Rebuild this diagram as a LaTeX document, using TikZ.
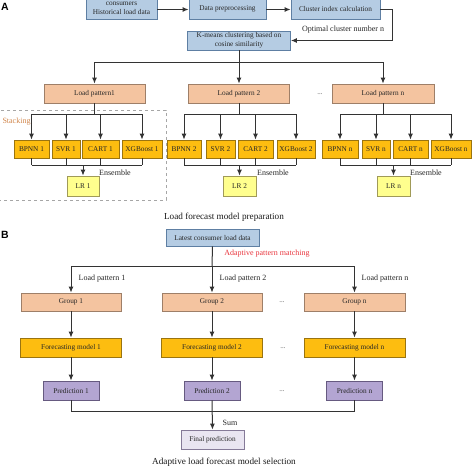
\documentclass[tikz,border=0pt]{standalone}
\usepackage{fontspec}
\setmainfont{Liberation Serif}
\newfontfamily\labfont{Liberation Sans}
\usetikzlibrary{arrows.meta}
\definecolor{bluef}{HTML}{B5CCE3}
\definecolor{blued}{HTML}{5E7FA3}
\definecolor{salf}{HTML}{F4C4A0}
\definecolor{sald}{HTML}{9E7F68}
\definecolor{ambf}{HTML}{FDBD10}
\definecolor{ambd}{HTML}{9A7410}
\definecolor{lyf}{HTML}{FFFF8E}
\definecolor{lyd}{HTML}{A09A58}
\definecolor{purf}{HTML}{B3A5D2}
\definecolor{purd}{HTML}{665A80}
\definecolor{finf}{HTML}{E9E5F1}
\definecolor{find}{HTML}{857A98}
\definecolor{linec}{HTML}{333333}
\definecolor{stackc}{HTML}{D0854A}
\definecolor{redc}{HTML}{E8343C}
\tikzset{
  bx/.style={draw, line width=0.8pt, inner sep=0pt, align=center, text=black!85,
    font=\fontsize{7.3}{8.6}\selectfont},
  bluebox/.style={bx, fill=bluef, draw=blued},
  salbox/.style={bx, fill=salf, draw=sald, minimum height=19pt},
  ambbox/.style={bx, fill=ambf, draw=ambd},
  lybox/.style={bx, fill=lyf, draw=lyd, minimum height=20pt},
  purbox/.style={bx, fill=purf, draw=purd, minimum height=19pt, minimum width=56pt},
  finbox/.style={bx, fill=finf, draw=find},
  conn/.style={draw=linec, line width=1pt},
  arr/.style={conn, -{Latex[length=6pt,width=5pt]}},
  lbl/.style={inner sep=0pt, text=black!85, font=\fontsize{8}{9}\selectfont},
  captext/.style={inner sep=0pt, text=black!90, font=\fontsize{9.2}{11}\selectfont},
  dots/.style={inner sep=0pt, text=black!70, font=\fontsize{7}{8}\selectfont},
}
\begin{document}
\begin{tikzpicture}[x=1pt,y=-1pt]
\useasboundingbox (0,0) rectangle (474,467);
\begin{scope}
\clip (0,0) rectangle (474,467);
% panel labels
\node[inner sep=0pt, font=\labfont\bfseries\fontsize{10.5}{12}\selectfont] (labA) at (5,7) {A};
\node[inner sep=0pt, font=\labfont\bfseries\fontsize{10.5}{12}\selectfont] (labB) at (5,235) {B};
% top row
\node[bluebox, minimum width=71pt, minimum height=22pt] (cons) at (121.5,8.5) {consumers\\Historical load data};
\node[bluebox, minimum width=77pt, minimum height=22pt] (prep) at (227.5,8.5) {Data preprocessing};
\node[bluebox, minimum width=89pt, minimum height=22pt] (clus) at (335.5,8.5) {Cluster index calculation};
\node[bluebox, minimum width=103pt, minimum height=19pt] (kmeans) at (239,40.5) {K-means clustering based on\\cosine similarity};
\draw[arr] (cons.east |- 0,9.5) -- (prep.west |- 0,9.5);
\draw[arr] (prep.east |- 0,9.5) -- (clus.west |- 0,9.5);
\coordinate (cr) at (392,9.5);
\draw[arr] (clus.east |- cr) -- (cr) |- (kmeans.east);
\node[lbl] (opt) at (343,30) {Optimal cluster number n};
% load patterns
\node[salbox, minimum width=101pt] (lp1) at (94.5,93.5) {Load pattern1};
\node[salbox, minimum width=101pt] (lp2) at (239,93.5) {Load pattern 2};
\node[salbox, minimum width=102pt] (lpn) at (383,93.5) {Load pattern n};
\node[dots] (d1) at (320,94) {...};
\coordinate (ks) at (239,62);
\draw[conn] (kmeans.south) -- (ks);
\draw[arr] (ks) -| (lp1.north);
\draw[arr] (ks) -- (lp2.north);
\draw[arr] (ks) -| (lpn.north);
% stacking box
\draw[dashed, draw=black!35, line width=0.7pt] (-2,110) rectangle (166,200);
\node[inner sep=0pt, text=stackc, font=\fontsize{8}{9}\selectfont] (stk) at (16.5,122) {Stacking};
% models group 1
\node[ambbox, minimum width=35pt, minimum height=18pt] (b1) at (31.5,149) {BPNN 1};
\node[ambbox, minimum width=28pt, minimum height=18pt] (s1) at (66,149) {SVR 1};
\node[ambbox, minimum width=37pt, minimum height=18pt] (c1) at (100.5,149) {CART 1};
\node[ambbox, minimum width=40pt, minimum height=18pt] (x1) at (142,149) {XGBoost 1};
% group 2
\node[ambbox, minimum width=34pt, minimum height=18pt] (b2) at (184,149) {BPNN 2};
\node[ambbox, minimum width=29pt, minimum height=18pt] (s2) at (220.5,149) {SVR 2};
\node[ambbox, minimum width=35pt, minimum height=18pt] (c2) at (255.5,149) {CART 2};
\node[ambbox, minimum width=38pt, minimum height=18pt] (x2) at (296,149) {XGBoost 2};
% group n
\node[ambbox, minimum width=36pt, minimum height=18pt] (bn) at (340,149) {BPNN n};
\node[ambbox, minimum width=28pt, minimum height=18pt] (sn) at (376,149) {SVR n};
\node[ambbox, minimum width=35pt, minimum height=18pt] (cn) at (410.5,149) {CART n};
\node[ambbox, minimum width=40pt, minimum height=18pt] (xn) at (451,149) {XGBoost n};
% LR
\node[lybox, minimum width=32pt] (lr1) at (83,186) {LR 1};
\node[lybox, minimum width=33pt] (lr2) at (239.5,186) {LR 2};
\node[lybox, minimum width=33pt] (lrn) at (393.5,186) {LR n};
% fan-out
\foreach \g/\c in {1/94.5,2/239,n/383}{
  \coordinate (f\g) at (\c,114);
  \draw[conn] (lp\g.south) -- (f\g);
  \draw[conn] (b\g.north |- f\g) -- (x\g.north |- f\g);
  \foreach \m in {b,s,c,x}{ \draw[arr] (\m\g.north |- f\g) -- (\m\g.north); }
  \coordinate (e\g) at (lr\g.north |- 0,165);
  \foreach \m in {b,s,c,x}{ \draw[conn] (\m\g.south) -- (\m\g.south |- e\g); }
  \draw[conn] (b\g.south |- e\g) -- (x\g.south |- e\g);
  \draw[arr] (e\g) -- (lr\g.north);
}
\node[lbl] (en1) at (115,173) {Ensemble};
\node[lbl] (en2) at (273,172.5) {Ensemble};
\node[lbl] (enn) at (426,172.5) {Ensemble};
\node[captext] (capA) at (224,217) {Load forecast model preparation};
% Panel B
\node[bluebox, minimum width=93pt, minimum height=17pt] (latest) at (212.5,237.5) {Latest consumer load data};
\node[inner sep=0pt, text=redc, font=\fontsize{8}{9}\selectfont] (apm) at (267,254) {Adaptive pattern matching};
\node[salbox, minimum width=100pt, minimum height=18pt] (g1) at (71,302) {Group 1};
\node[salbox, minimum width=100pt, minimum height=18pt] (g2) at (212,302) {Group 2};
\node[salbox, minimum width=101pt, minimum height=18pt] (gn) at (354.5,302) {Group n};
\node[dots] (d2) at (282,302) {...};
\coordinate (ls) at (212,266);
\draw[conn] (latest.south) -- (ls);
\draw[arr] (ls) -| (g1.north);
\draw[arr] (ls) -- (g2.north);
\draw[arr] (ls) -| (gn.north);
\node[lbl] (lpl1) at (102,279) {Load pattern 1};
\node[lbl] (lpl2) at (243,279) {Load pattern 2};
\node[lbl] (lpln) at (385,279) {Load pattern n};
\node[ambbox, minimum width=101pt, minimum height=19pt] (fm1) at (71,347.5) {Forecasting model 1};
\node[ambbox, minimum width=101pt, minimum height=19pt] (fm2) at (212,347.5) {Forecasting model 2};
\node[ambbox, minimum width=101pt, minimum height=19pt] (fmn) at (354.5,347.5) {Forecasting model n};
\node[dots] (d3) at (283,348) {...};
\node[purbox] (p1) at (71,390.5) {Prediction 1};
\node[purbox] (p2) at (212,390.5) {Prediction 2};
\node[purbox] (pn) at (354.5,390.5) {Prediction n};
\node[dots] (d4) at (282,391) {...};
\draw[arr] (g1.south) -- (fm1.north);
\draw[arr] (g2.south) -- (fm2.north);
\draw[arr] (gn.south) -- (fmn.north);
\draw[arr] (fm1.south) -- (p1.north);
\draw[arr] (fm2.south) -- (p2.north);
\draw[arr] (fmn.south) -- (pn.north);
\node[finbox, minimum width=63pt, minimum height=19pt] (fin) at (212.5,439.5) {Final prediction};
\coordinate (sm) at (212,411);
\draw[conn] (p1.south) |- (sm);
\draw[conn] (pn.south) |- (sm);
\draw[arr] (p2.south) -- (fin.north);
\node[lbl] (sum) at (230,423) {Sum};
\node[captext] (capB) at (224,462) {Adaptive load forecast model selection};
\end{scope}
\end{tikzpicture}
\end{document}
